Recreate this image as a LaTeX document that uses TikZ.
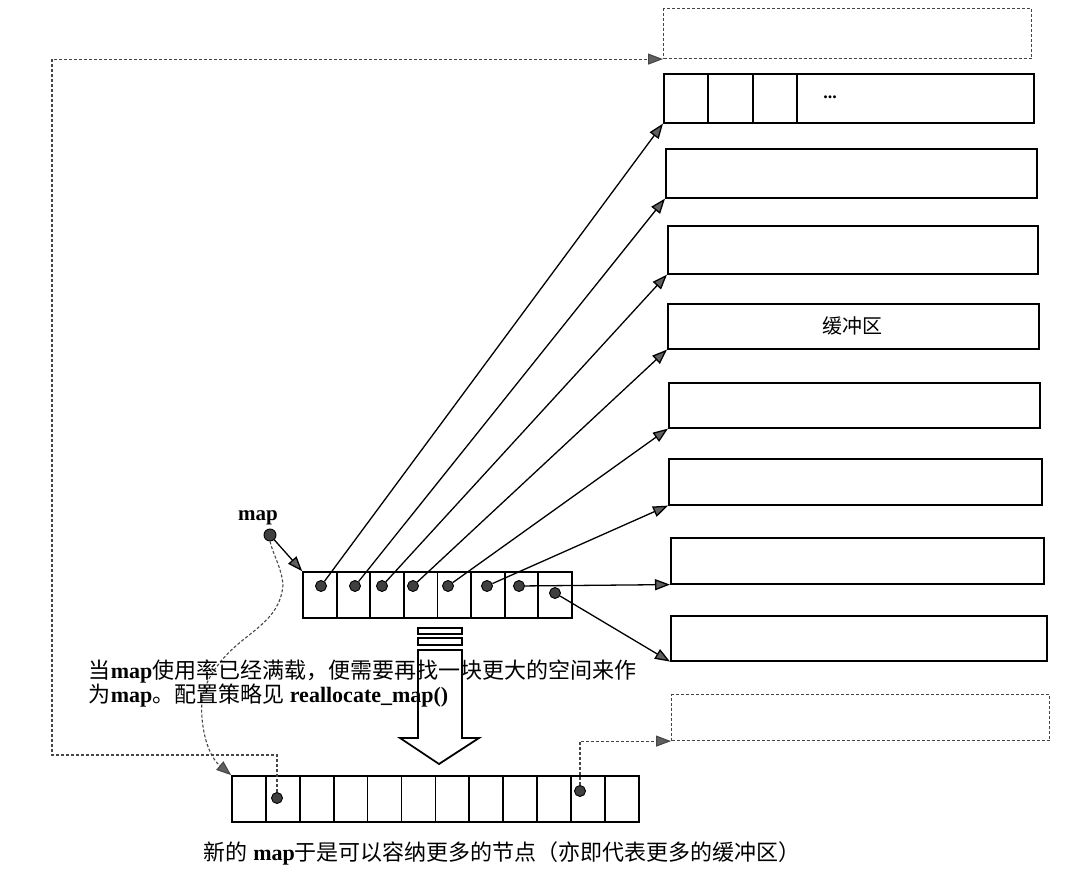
\documentclass[tikz,border=0pt]{standalone}
\usepackage{fontspec}
\setmainfont{Liberation Serif}
\newfontfamily\cjk{Noto Sans CJK SC}
\usetikzlibrary{arrows.meta,calc}
\newcommand\lat[1]{{\rmfamily\bfseries #1}}

\begin{document}
\begin{tikzpicture}[x=1pt,y=-1pt,line width=1.6pt,
  buf/.style={draw,anchor=north west,inner sep=0pt},
  ghost/.style={draw,densely dashed,gray!55!black,line width=1.1pt,anchor=north west,inner sep=0pt},
  cell/.style={draw,minimum width=33.8pt,minimum height=46pt,inner sep=0pt},
  dot/.style={circle,draw,fill=gray!50!black,line width=0.9pt,inner sep=0pt,minimum size=11pt},
  ptr/.style={line width=1.3pt,-{Triangle[length=15pt,width=11pt,fill=gray!75!black]}},
  link/.style={densely dashed,gray!55!black,line width=1.1pt,-{Triangle[length=15pt,width=11pt,fill=gray!75!black]}},
  txt/.style={anchor=base west,inner sep=0pt,font=\fontsize{22}{24}\selectfont}]
\useasboundingbox[fill=white] (0,0) rectangle (1066,874);
% buffers
\foreach \n/\t/\b/\l/\r/\s in {0/8/58/663/1031/ghost,1/73/122/663/1033/buf,2/148/197/665/1036/buf,3/225/273/667/1037/buf,
  4/303/348/667/1038/buf,5/382/427/668/1039/buf,6/458/504/668/1041/buf,7/537/583/670/1043/buf,8/615/660/670/1046/buf,9/694/740/671/1049/ghost}
  \node[\s,minimum width=\r pt-\l pt,minimum height=\b pt-\t pt] (b\n) at (\l,\t) {};
\foreach \s in {45,90,134}
  \draw ([xshift=\s pt]b1.north west) -- ([xshift=\s pt]b1.south west);
\node[font=\bfseries\fontsize{18}{18}\selectfont] at (830,97) {...};
\node[font=\cjk\fontsize{20}{20}\selectfont] (bufname) at (852,326) {缓冲区};
% old map
\foreach \i in {0,...,7}
  \node[cell] (m\i) at (303+16.9+33.6*\i,595) {};
\foreach \i/\x/\y in {0/321/586,1/355/586,2/382/586,3/413/586,4/448/586,5/487/586,6/519/586,7/555/593}
  \node[dot] (d\i) at (\x,\y) {};
\draw[ptr] (d0) -- (b1.south west);
\draw[ptr] (d1) -- (b2.south west);
\draw[ptr] (d2) -- (b3.south west);
\draw[ptr] (d3) -- (b4.south west);
\draw[ptr] (d4) -- (b5.south west);
\draw[ptr] (d5) -- (b6.south west);
\draw[ptr] (d6) -- (b7.south west);
\draw[ptr] (d7) -- (b8.south west);
% map pointer
\node[font=\bfseries\fontsize{21}{21}\selectfont,anchor=base] (maplbl) at (258,520) {map};
\node[dot,minimum size=12pt] (mp) at (270,535) {};
\draw[ptr] (mp) -- (m0.north west);
% new map
\foreach \i in {0,...,11}
  \node[cell] (n\i) at (232+16.95+33.9*\i,799) {};
\node[dot] (e1) at (277,798) {};
\node[dot] (e10) at (580,791) {};
\coordinate (corner) at (52,755);
\draw[link] (e1) -- (e1 |- corner) -- (corner) |- (b0.south west);
\draw[link] (e10) |- (b9.south west);
\draw[link] (mp.south) to[out=-75,in=95] (283,585) to[out=-95,in=50] (222,660)
  to[out=-130,in=95] (202,718) to[out=-85,in=140] (n0.north west);
% big arrow
\draw (418,628) rectangle (462,634);
\draw (418,638) rectangle (462,645);
\draw[line width=1.8pt] (418,650) -- (418,738) -- (400,738) -- (439,764) -- (479,738) -- (462,738) -- (462,650) -- cycle;
% texts
\node[txt] (note1) at (88,678) {{\cjk 当}\lat{map}{\cjk 使用率已经满载，便需要再找一块更大的空间来作}};
\node[txt] (note2) at (88,702) {{\cjk 为}\lat{map}{\cjk 。配置策略见} \lat{reallocate\_map()}};
\node[txt] (cap) at (203,860) {{\cjk 新的} \lat{map}{\cjk 于是可以容纳更多的节点（亦即代表更多的缓冲区）}};
\end{tikzpicture}
\end{document}
